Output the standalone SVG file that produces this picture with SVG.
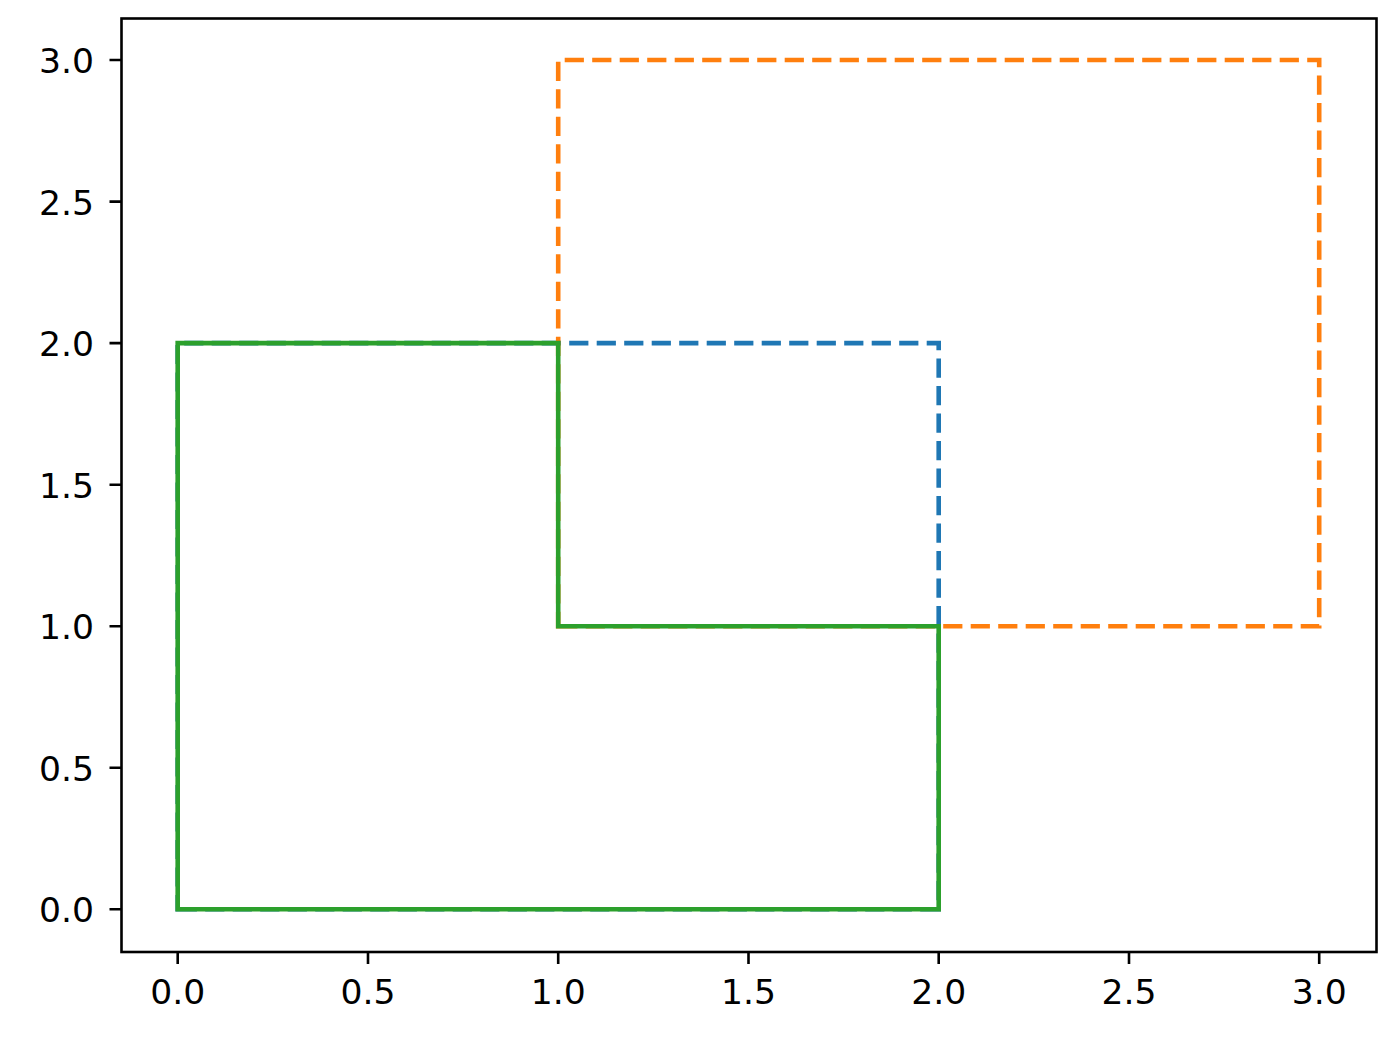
<svg xmlns="http://www.w3.org/2000/svg" width="1400" height="1038" viewBox="0 0 1400 1038">
<style>
.tick{stroke:#000;stroke-width:2.6;fill:none}
.lbl{font-family:"DejaVu Sans",sans-serif;font-size:34.6px;fill:#000}
.xl{text-anchor:middle}
.yl{text-anchor:end}
.dash{fill:none;stroke-width:4.6;stroke-dasharray:19.2 8.3;stroke-linejoin:miter;stroke-linecap:butt}
</style>
<rect width="1400" height="1038" fill="#fff"/>
<g id="series">
<path id="blue" class="dash" stroke="#1f77b4" d="M177.7,909.3 L938.7,909.3 L938.7,343.1 L177.7,343.1 Z"/>
<path id="orange" class="dash" stroke="#ff7f0e" d="M558.2,626.2 L1319.2,626.2 L1319.2,60 L558.2,60 Z"/>
<path id="green" fill="none" stroke="#2ca02c" stroke-width="4.6" stroke-linejoin="miter" d="M177.7,909.3 L938.7,909.3 L938.7,626.2 L558.2,626.2 L558.2,343.1 L177.7,343.1 Z"/>
</g>
<g id="axes">
<rect x="121.5" y="18.5" width="1255" height="933.5" fill="none" stroke="#000" stroke-width="2.6"/>
<g id="xticks">
<path class="tick" d="M177.7,952 v12 M368,952 v12 M558.2,952 v12 M748.5,952 v12 M938.7,952 v12 M1129,952 v12 M1319.2,952 v12"/>
<text class="lbl xl" x="177.7" y="1004">0.0</text>
<text class="lbl xl" x="368" y="1004">0.5</text>
<text class="lbl xl" x="558.2" y="1004">1.0</text>
<text class="lbl xl" x="748.5" y="1004">1.5</text>
<text class="lbl xl" x="938.7" y="1004">2.0</text>
<text class="lbl xl" x="1129" y="1004">2.5</text>
<text class="lbl xl" x="1319.2" y="1004">3.0</text>
</g>
<g id="yticks">
<path class="tick" d="M121.5,909.3 h-12 M121.5,767.8 h-12 M121.5,626.2 h-12 M121.5,484.7 h-12 M121.5,343.1 h-12 M121.5,201.6 h-12 M121.5,60 h-12"/>
<text class="lbl yl" x="94" y="922">0.0</text>
<text class="lbl yl" x="94" y="780.5">0.5</text>
<text class="lbl yl" x="94" y="639">1.0</text>
<text class="lbl yl" x="94" y="497.5">1.5</text>
<text class="lbl yl" x="94" y="356">2.0</text>
<text class="lbl yl" x="94" y="214.5">2.5</text>
<text class="lbl yl" x="94" y="73">3.0</text>
</g>
</g>
</svg>
